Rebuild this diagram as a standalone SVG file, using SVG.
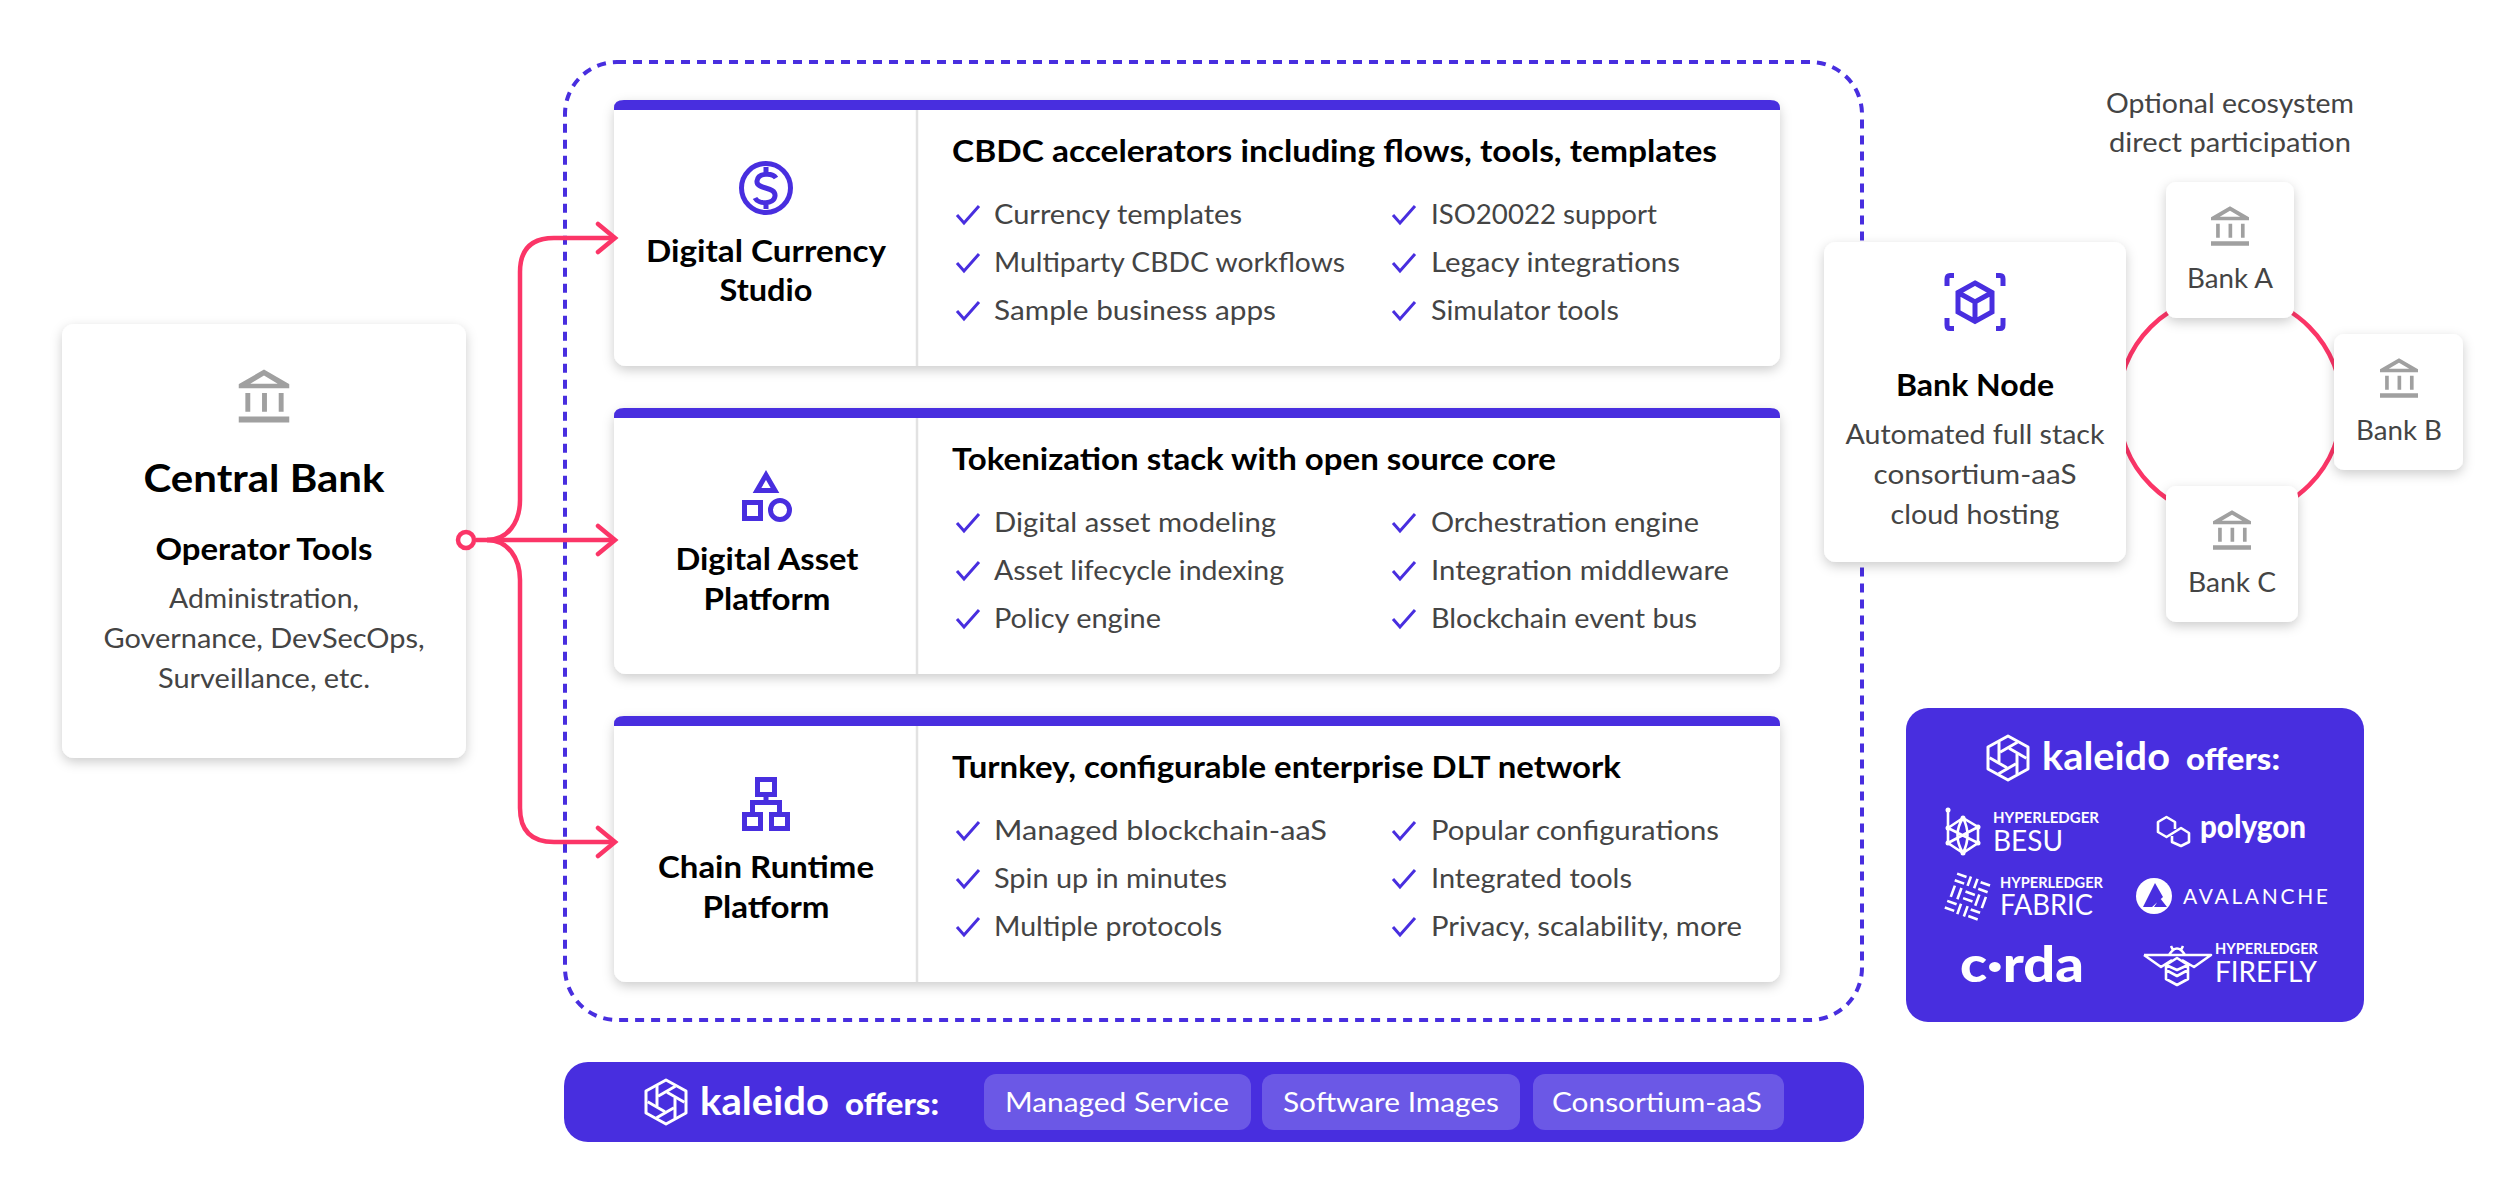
<svg xmlns="http://www.w3.org/2000/svg" width="2500" height="1202" viewBox="0 0 2500 1202">
<style>
text{font-family:"Lato","Liberation Sans",sans-serif}
.c{text-anchor:middle}
.t{font-weight:700;fill:#000;font-size:30px}
.h{font-weight:700;fill:#000;font-size:31px}
.b{font-weight:400;fill:#444;font-size:27px}
.w{fill:#fff}
.card{fill:#fff;filter:url(#sh)}
.bar{fill:#482EDF}
.div{stroke:#e2e2e2;stroke-width:2.5}
.ic{fill:none;stroke:#482EDF;stroke-width:5}
.ck{fill:none;stroke:#482EDF;stroke-width:3}
.pk{fill:none;stroke:#FB3567;stroke-width:4.5}
.lg{fill:none;stroke:#fff;stroke-width:2.6}
.btn{fill:#6B58E6}
.hl{font-weight:700;font-size:15px;fill:#fff}
.nm{font-weight:400;font-size:28px;fill:#fff}
</style>
<defs>
<filter id="sh" x="-10%" y="-10%" width="120%" height="125%"><feDropShadow dx="0" dy="4" stdDeviation="6" flood-color="#000" flood-opacity=".2"/></filter>
<marker id="arrow" markerUnits="userSpaceOnUse" markerWidth="30" markerHeight="40" refX="20" refY="20" orient="auto"><path d="M3 6L20 20L3 34" fill="none" stroke="#FB3567" stroke-width="4.5" stroke-linecap="round"/></marker>
<symbol id="bank" viewBox="0 0 52 54"><path fill="#a0a0a0" fill-rule="evenodd" d="M26 0L52 15V19H0V15ZM26 6L12 14.5H40Z"/><path fill="#a0a0a0" d="M7 24h5v19H7zM24 24h5v19h-5zM41 24h5v19h-5zM0 48h52v6H0z"/></symbol>
<path id="check" d="M0 9L7 17L22 0"/>
<symbol id="kal" viewBox="0 0 44 48" overflow="visible"><g fill="none" stroke="#fff" stroke-width="3" stroke-linejoin="round"><path d="M22 2L42 13V35L22 46L2 35V13Z"/><path id="bl" d="M13 8V28"/><use href="#bl" transform="rotate(60 22 24)"/><use href="#bl" transform="rotate(120 22 24)"/><use href="#bl" transform="rotate(180 22 24)"/><use href="#bl" transform="rotate(240 22 24)"/><use href="#bl" transform="rotate(300 22 24)"/></g></symbol>
</defs>
<rect width="2500" height="1202" fill="#fff"/>
<rect id="platform-boundary" x="565" y="62" width="1297" height="958" rx="52" fill="none" stroke="#482EDF" stroke-width="4" stroke-dasharray="9 7"/>

<g id="central-bank"><rect class="card" x="62" y="324" width="404" height="434" rx="12"/>
<use href="#bank" x="238.500" y="369" width="51" height="54"/>
<text class="c" x="264" y="492" font-size="38" font-weight="700" textLength="241" lengthAdjust="spacingAndGlyphs">Central Bank</text>
<text class="c t" x="264" y="560" textLength="217" lengthAdjust="spacingAndGlyphs">Operator Tools</text>
<text class="c b" x="264" y="608" textLength="190" lengthAdjust="spacingAndGlyphs">Administration,</text>
<text class="c b" x="264" y="648" textLength="321" lengthAdjust="spacingAndGlyphs">Governance, DevSecOps,</text>
<text class="c b" x="264" y="688" textLength="212" lengthAdjust="spacingAndGlyphs">Surveillance, etc.</text></g>

<g id="digital-currency-studio"><rect class="card" x="614" y="100" width="1166" height="266" rx="12"/>
<path class="bar" d="M614 110V108Q614 100 624 100H1770Q1780 100 1780 108V110Z"/>
<path class="div" d="M917 110V366"/>
<circle class="ic" cx="766" cy="188" r="24.500"/><path class="ic" stroke-width="4.500" d="M776 178C773 173 758 172 757 181C756 190 776 186 775 196C774 205 758 204 755 198M766 167V174M766 202V209"/>
<text class="c t" x="766" y="262" textLength="240" lengthAdjust="spacingAndGlyphs">Digital Currency</text>
<text class="c t" x="766" y="301" textLength="93" lengthAdjust="spacingAndGlyphs">Studio</text>
<text class="h" x="952" y="162" textLength="765" lengthAdjust="spacingAndGlyphs">CBDC accelerators including flows, tools, templates</text>
<use class="ck" href="#check" x="957" y="206"/><text class="b" x="994" y="224" textLength="248" lengthAdjust="spacingAndGlyphs">Currency templates</text>
<use class="ck" href="#check" x="957" y="254"/><text class="b" x="994" y="272" textLength="351" lengthAdjust="spacingAndGlyphs">Multiparty CBDC workflows</text>
<use class="ck" href="#check" x="957" y="302"/><text class="b" x="994" y="320" textLength="282" lengthAdjust="spacingAndGlyphs">Sample business apps</text>
<use class="ck" href="#check" x="1393" y="206"/><text class="b" x="1431" y="224" textLength="226" lengthAdjust="spacingAndGlyphs">ISO20022 support</text>
<use class="ck" href="#check" x="1393" y="254"/><text class="b" x="1431" y="272" textLength="249" lengthAdjust="spacingAndGlyphs">Legacy integrations</text>
<use class="ck" href="#check" x="1393" y="302"/><text class="b" x="1431" y="320" textLength="188" lengthAdjust="spacingAndGlyphs">Simulator tools</text></g>

<g id="digital-asset-platform"><rect class="card" x="614" y="408" width="1166" height="266" rx="12"/>
<path class="bar" d="M614 418V416Q614 408 624 408H1770Q1780 408 1780 416V418Z"/>
<path class="div" d="M917 418V674"/>
<path class="ic" d="M766 475L775 490.500H757ZM744.500 502.500H760.500V518.500H744.500Z"/><circle class="ic" cx="780" cy="510" r="9.500"/>
<text class="c t" x="767" y="570" textLength="183" lengthAdjust="spacingAndGlyphs">Digital Asset</text>
<text class="c t" x="767" y="610" textLength="127" lengthAdjust="spacingAndGlyphs">Platform</text>
<text class="h" x="952" y="470" textLength="604" lengthAdjust="spacingAndGlyphs">Tokenization stack with open source core</text>
<use class="ck" href="#check" x="957" y="514"/><text class="b" x="994" y="532" textLength="282" lengthAdjust="spacingAndGlyphs">Digital asset modeling</text>
<use class="ck" href="#check" x="957" y="562"/><text class="b" x="994" y="580" textLength="290" lengthAdjust="spacingAndGlyphs">Asset lifecycle indexing</text>
<use class="ck" href="#check" x="957" y="610"/><text class="b" x="994" y="628" textLength="167" lengthAdjust="spacingAndGlyphs">Policy engine</text>
<use class="ck" href="#check" x="1393" y="514"/><text class="b" x="1431" y="532" textLength="268" lengthAdjust="spacingAndGlyphs">Orchestration engine</text>
<use class="ck" href="#check" x="1393" y="562"/><text class="b" x="1431" y="580" textLength="298" lengthAdjust="spacingAndGlyphs">Integration middleware</text>
<use class="ck" href="#check" x="1393" y="610"/><text class="b" x="1431" y="628" textLength="266" lengthAdjust="spacingAndGlyphs">Blockchain event bus</text></g>

<g id="chain-runtime-platform"><rect class="card" x="614" y="716" width="1166" height="266" rx="12"/>
<path class="bar" d="M614 726V724Q614 716 624 716H1770Q1780 716 1780 724V726Z"/>
<path class="div" d="M917 726V982"/>
<path class="ic" d="M757.500 779.500H774.500V794.500H757.500ZM744.500 814.500H760.500V828.500H744.500ZM771.500 814.500H787.500V828.500H771.500ZM766 795V802M752.500 814V802.500H779.500V814"/>
<text class="c t" x="766" y="878" textLength="216" lengthAdjust="spacingAndGlyphs">Chain Runtime</text>
<text class="c t" x="766" y="918" textLength="127" lengthAdjust="spacingAndGlyphs">Platform</text>
<text class="h" x="952" y="778" textLength="669" lengthAdjust="spacingAndGlyphs">Turnkey, configurable enterprise DLT network</text>
<use class="ck" href="#check" x="957" y="822"/><text class="b" x="994" y="840" textLength="333" lengthAdjust="spacingAndGlyphs">Managed blockchain-aaS</text>
<use class="ck" href="#check" x="957" y="870"/><text class="b" x="994" y="888" textLength="233" lengthAdjust="spacingAndGlyphs">Spin up in minutes</text>
<use class="ck" href="#check" x="957" y="918"/><text class="b" x="994" y="936" textLength="228" lengthAdjust="spacingAndGlyphs">Multiple protocols</text>
<use class="ck" href="#check" x="1393" y="822"/><text class="b" x="1431" y="840" textLength="288" lengthAdjust="spacingAndGlyphs">Popular configurations</text>
<use class="ck" href="#check" x="1393" y="870"/><text class="b" x="1431" y="888" textLength="201" lengthAdjust="spacingAndGlyphs">Integrated tools</text>
<use class="ck" href="#check" x="1393" y="918"/><text class="b" x="1431" y="936" textLength="311" lengthAdjust="spacingAndGlyphs">Privacy, scalability, more</text></g>

<g id="connectors">
<circle class="pk" cx="2230" cy="406" r="112"/>
<path class="pk" marker-end="url(#arrow)" d="M476 540H615"/>
<path class="pk" marker-end="url(#arrow)" d="M487 540C508 540 520 522 520 500V272Q520 238 554 238H615"/>
<path class="pk" marker-end="url(#arrow)" d="M487 540C508 540 520 558 520 580V808Q520 842 554 842H615"/>
<circle class="pk" cx="466" cy="540" r="8" style="fill:#fff"/>
</g>

<g id="ecosystem-note"><text class="c b" x="2230" y="113" textLength="248" lengthAdjust="spacingAndGlyphs">Optional ecosystem</text>
<text class="c b" x="2230" y="152" textLength="242" lengthAdjust="spacingAndGlyphs">direct participation</text></g>

<g id="bank-node"><rect class="card" x="1824" y="242" width="302" height="320" rx="12"/>
<path class="ic" stroke-width="4.500" d="M1954 275.500H1950Q1947 275.500 1947 279V286M1996 275.500H2000Q2003 275.500 2003 279V286M1954 328.500H1950Q1947 328.500 1947 325V318M1996 328.500H2000Q2003 328.500 2003 325V318"/>
<path class="ic" d="M1975 283L1992 292.500V312L1975 321.500L1958 312V292.500ZM1958 292.500L1975 302L1992 292.500M1975 302V321"/>
<text class="c t" x="1975" y="396" textLength="158" lengthAdjust="spacingAndGlyphs">Bank Node</text>
<text class="c b" x="1975" y="444" textLength="259" lengthAdjust="spacingAndGlyphs">Automated full stack</text>
<text class="c b" x="1975" y="484" textLength="203" lengthAdjust="spacingAndGlyphs">consortium-aaS</text>
<text class="c b" x="1975" y="524" textLength="169" lengthAdjust="spacingAndGlyphs">cloud hosting</text></g>

<g id="bank-a"><rect class="card" x="2166" y="182" width="128" height="136" rx="10"/><use href="#bank" x="2211" y="206" width="38" height="40"/><text class="c b" x="2230" y="288" textLength="86" lengthAdjust="spacingAndGlyphs">Bank A</text></g>
<g id="bank-b"><rect class="card" x="2334" y="334" width="129" height="136" rx="10"/><use href="#bank" x="2380" y="358" width="38" height="40"/><text class="c b" x="2399" y="440" textLength="86" lengthAdjust="spacingAndGlyphs">Bank B</text></g>
<g id="bank-c"><rect class="card" x="2166" y="486" width="132" height="136" rx="10"/><use href="#bank" x="2213" y="510" width="38" height="40"/><text class="c b" x="2232" y="592" textLength="88" lengthAdjust="spacingAndGlyphs">Bank C</text></g>

<g id="protocols-panel"><rect class="bar" x="1906" y="708" width="458" height="314" rx="22"/>
<use href="#kal" x="1986" y="734" width="44" height="48"/>
<text class="w" x="2042" y="770" font-size="39" font-weight="700" textLength="128" lengthAdjust="spacingAndGlyphs">kaleido</text>
<text class="w" x="2186" y="770" font-size="31" font-weight="900" textLength="94" lengthAdjust="spacingAndGlyphs">offers:</text>
<path class="lg" stroke-width="2" d="M1948 810V828M1948 828L1963 818L1978 827V843L1963 853L1948 843ZM1948 828L1978 843M1978 827L1948 843M1963 818Q1952 835 1963 853M1963 818Q1972 835 1963 853"/>
<g class="w"><circle cx="1948" cy="810" r="2.500"/><circle cx="1963" cy="818" r="2.500"/><circle cx="1978" cy="827" r="2.500"/><circle cx="1978" cy="843" r="2.500"/><circle cx="1963" cy="853" r="2.500"/><circle cx="1948" cy="843" r="2.500"/><circle cx="1948" cy="828" r="2.500"/></g>
<text class="hl" x="1993" y="823" textLength="106" lengthAdjust="spacingAndGlyphs">HYPERLEDGER</text>
<text class="nm" x="1993" y="851" textLength="70" lengthAdjust="spacingAndGlyphs">BESU</text>
<path class="lg" stroke-width="4.500" stroke-linejoin="round" d="M2175 829V822L2166.500 817L2158 822V832L2166.500 837L2181 828L2189 833V842L2181 846L2172 842V836"/>
<text class="w" x="2200" y="838" font-size="32" font-weight="900" textLength="106" lengthAdjust="spacingAndGlyphs">polygon</text>
<g transform="rotate(20 1966 896)"><path class="lg" stroke-width="4.500" d="M1950 878h10M1950 885h10M1964 876v10M1971 876v10M1975 878h10M1975 885h10M1952 890v12M1959 890v12M1964 892h10M1964 899h10M1978 890v12M1985 890v12M1950 907h10M1950 914h10M1964 905v11M1971 905v11M1975 907h10M1975 914h10"/></g>
<text class="hl" x="2000" y="888" textLength="103" lengthAdjust="spacingAndGlyphs">HYPERLEDGER</text>
<text class="nm" x="2000" y="915" textLength="93" lengthAdjust="spacingAndGlyphs">FABRIC</text>
<circle class="w" cx="2154" cy="896" r="18"/><path class="bar" d="M2155 883L2163 897L2152 907H2143ZM2160 898L2167 907H2154Z"/>
<text class="w" x="2183" y="904" font-size="21" font-weight="400" textLength="145">AVALANCHE</text>
<text class="w" x="1960" y="982" font-size="50" font-weight="900" textLength="124" lengthAdjust="spacingAndGlyphs">c·rda</text>
<path class="lg" stroke-width="2.800" stroke-linejoin="round" d="M2144 955H2211L2194 967L2182 960M2144 955L2161 967L2172 960M2169 955Q2177 942 2185 955M2171 946L2173 950M2183 946L2181 950M2177 958L2188 965V979L2177 985L2166 979V965ZM2166 970L2177 976L2188 970M2166 965L2177 970L2188 965"/>
<text class="hl" x="2215" y="954" textLength="103" lengthAdjust="spacingAndGlyphs">HYPERLEDGER</text>
<text class="nm" x="2215" y="982" textLength="102" lengthAdjust="spacingAndGlyphs">FIREFLY</text></g>

<g id="offers-bar"><rect class="bar" x="564" y="1062" width="1300" height="80" rx="24"/>
<use href="#kal" x="644" y="1078" width="44" height="48"/>
<text class="w" x="700" y="1115" font-size="39" font-weight="700" textLength="129" lengthAdjust="spacingAndGlyphs">kaleido</text>
<text class="w" x="845" y="1115" font-size="31" font-weight="900" textLength="94" lengthAdjust="spacingAndGlyphs">offers:</text>
<rect class="btn" x="984" y="1074" width="267" height="56" rx="12"/><text class="w" x="1005" y="1112" font-size="27" textLength="224" lengthAdjust="spacingAndGlyphs">Managed Service</text>
<rect class="btn" x="1262" y="1074" width="258" height="56" rx="12"/><text class="w" x="1283" y="1112" font-size="27" textLength="216" lengthAdjust="spacingAndGlyphs">Software Images</text>
<rect class="btn" x="1533" y="1074" width="251" height="56" rx="12"/><text class="w" x="1552" y="1112" font-size="27" textLength="210" lengthAdjust="spacingAndGlyphs">Consortium-aaS</text></g>
</svg>
